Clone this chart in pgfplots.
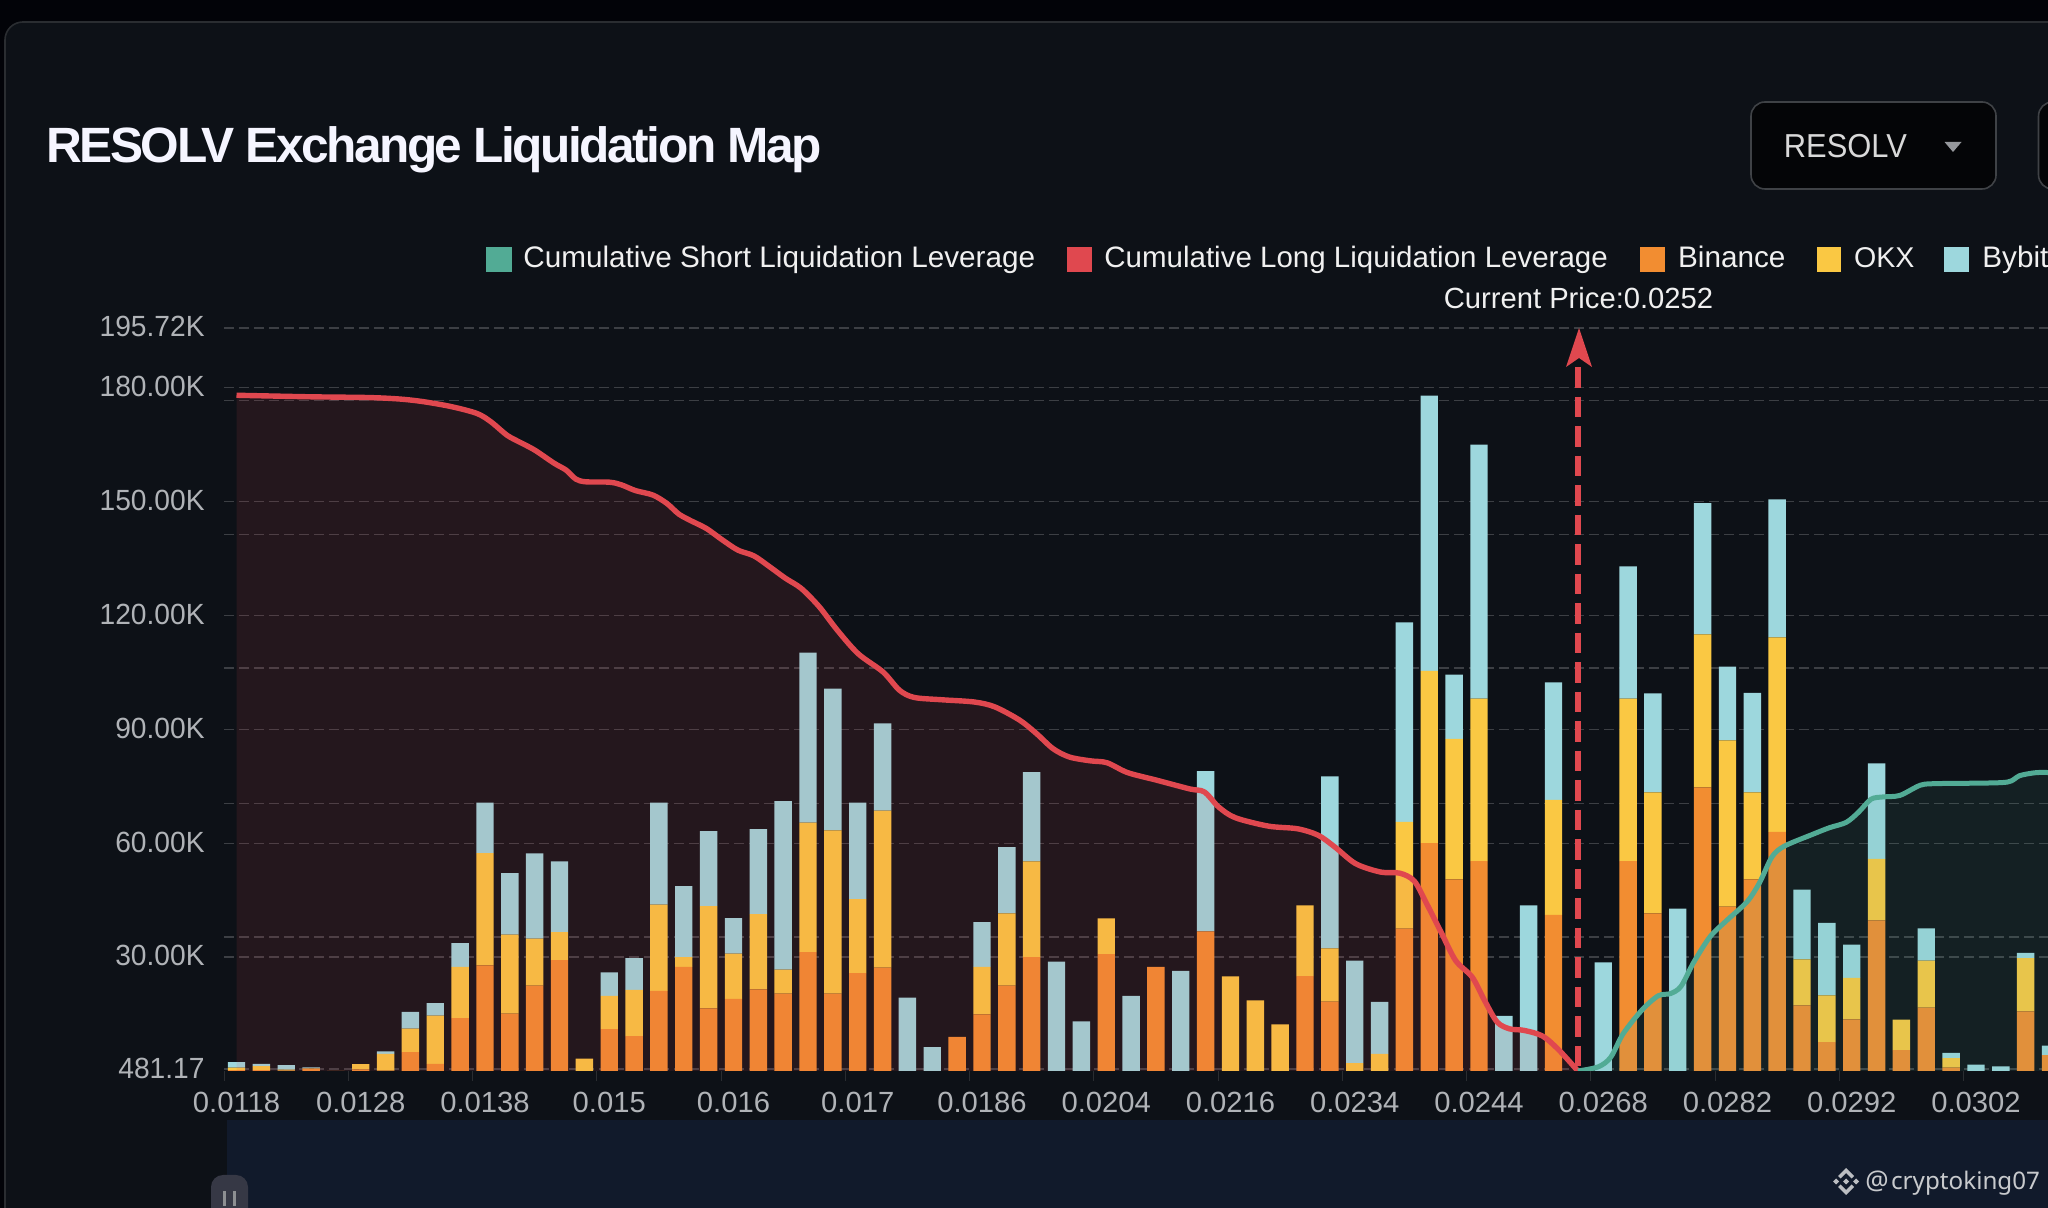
\documentclass[border=0pt]{standalone}
\usepackage{pgfplots}
\usepackage{pgfplotstable}
\usepackage{fontspec}
\pgfplotsset{compat=1.18}
\setmainfont{Liberation Sans}
\newfontfamily\din{Liberation Sans}[FakeStretch=0.93]
\newfontfamily\ylab{Liberation Sans}[FakeStretch=0.965]
\newfontfamily\ttl{Liberation Sans}[BoldFont={Liberation Sans Bold},LetterSpace=-5]
\newfontfamily\wmfont{Noto Sans}

\definecolor{pagebg}{HTML}{020308}
\definecolor{cardbg}{HTML}{0D1117}
\definecolor{cardln}{HTML}{2A2D31}
\definecolor{sliderbg}{HTML}{111A2B}
\definecolor{handle}{HTML}{363845}
\definecolor{gridc}{HTML}{3C3F44}
\definecolor{tickc}{HTML}{B0B3B7}
\definecolor{cbin}{HTML}{F28D31}
\definecolor{cokx}{HTML}{FAC843}
\definecolor{cbyb}{HTML}{9DD7DD}
\definecolor{cred}{HTML}{E0484F}
\definecolor{cgrn}{HTML}{52AB95}

% stacked bars, K values, one row per price bucket
\pgfplotstableread{
i binance okx bybit
0 0.26 0.6 1.5
1 0.25 1.05 0.6
2 0.1 0.25 1.2
3 0.6 0.1 0.27
4 0.05 0 0
5 0.4 1.44 0
6 0.1 4.4 0.7
7 5.0 6.15 4.4
8 1.9 12.7 3.3
9 13.9 13.5 6.3
10 27.8 29.6 13.3
11 15.1 20.8 16.2
12 22.5 12.4 22.4
13 29.2 7.4 18.6
14 0 3.25 0
15 11.0 8.8 6.2
16 9.2 12.2 8.3
17 21.1 22.7 26.9
18 27.4 2.6 18.7
19 16.5 26.9 19.8
20 19.0 11.9 9.4
21 21.5 19.8 22.4
22 20.4 6.3 44.4
23 31.3 34.1 44.8
24 20.4 43.0 37.3
25 25.8 19.5 25.4
26 27.2 41.4 23.0
27 0 0 19.3
28 0 0 6.3
29 9.0 0 0
30 14.9 12.5 11.8
31 22.5 19.0 17.5
32 30.0 25.2 23.5
33 0 0 28.8
34 0 0 13.1
35 30.8 9.4 0
36 0 0 19.8
37 27.4 0 0
38 0 0 26.4
39 36.8 0 42.2
40 0 24.9 0
41 0 18.6 0
42 0 12.3 0
43 25.0 18.6 0
44 18.3 14.0 45.3
45 0 2.1 27.0
46 0 4.5 13.7
47 37.5 28.1 52.6
48 60.0 45.4 72.5
49 50.5 37.0 16.9
50 55.3 42.8 66.9
51 0 0 14.5
52 0 0 43.6
53 41.1 30.3 31.0
54 0 0 0
55 0 0 28.6
56 55.3 42.8 34.8
57 41.5 31.9 26.1
58 0 0 42.8
59 74.7 40.3 34.6
60 43.3 43.8 19.4
61 50.5 22.9 26.2
62 63.0 51.2 36.4
63 17.3 12.1 18.4
64 7.6 12.3 19.1
65 13.6 10.9 8.8
66 39.7 16.2 25.1
67 5.5 8.0 0
68 16.7 12.4 8.5
69 0.9 2.5 1.4
70 0 0 1.7
71 0 0 1.2
72 15.7 14.0 1.4
73 4.2 0 2.5
}\bars

\pgfplotstableread{
i k
0 178
2.92 177.6
5.31 177.4
6.58 177
7.53 176.3
8.65 175
9.68 173.2
10.24 171
10.88 167.5
11.35 165.8
11.99 163.6
12.78 160.1
13.26 158.3
13.66 155.9
14.06 155.2
15.01 155.1
15.49 154.4
16.05 152.9
16.76 151.7
17.32 149.5
17.8 146.7
18.27 145
18.91 142.9
19.55 139.9
20.18 137.2
20.82 135.7
21.46 132.8
22.09 129.8
22.73 127.1
23.45 122.3
24.18 116.1
25.02 109.9
26.02 105.1
26.68 100.3
27.27 98.4
28.35 97.8
29.69 97.2
30.52 95.9
31.52 92.4
32.19 88.9
32.86 84.9
33.52 82.7
34.36 81.7
35.03 81.2
35.86 78.6
37.03 76.6
38.36 74.3
38.95 73.5
39.53 69.5
40.2 66.7
41.53 64.5
42.7 63.8
43.53 62.1
44.2 59
45.04 54.6
46.04 52.4
46.82 52.1
47.4 50
47.9 44
48.48 36.5
49.06 29.1
49.73 24.7
50.23 18.5
50.73 12.9
51.23 11.1
51.81 10.7
52.56 9.2
53.22 5.5
53.98 0
}\redcurve

\pgfplotstableread{
i k
53.98 0
54.8 1.1
55.3 3.6
55.8 9.8
56.55 16
57.21 19.8
57.71 20.4
58.13 22.3
58.63 28.5
59.29 35.3
59.96 39.6
60.79 44.6
61.29 49.6
61.79 56.4
62.28 59.2
63.45 62.4
64.11 64.1
64.78 65.5
65.28 68.2
65.78 71.6
66.27 72.2
66.94 72.6
67.77 75.3
68.44 75.7
69.77 75.8
71.26 76.1
71.76 77.8
72.43 78.6
73 78.6
}\greencurve

\pgfplotsset{
  frame/.style={
    at={(112pt,68.5pt)}, anchor=south west,
    scale only axis, width=912pt, height=371.5pt,
    xmin=-0.503, xmax=72.9, ymin=0, ymax=195.72,
  }
}

\begin{document}
\begin{tikzpicture}
\clip[use as bounding box] (0,0) rectangle (1024pt,604pt);
% page furniture, coordinates in reference pixels
\begin{scope}[x=0.5pt,y=-0.5pt,yshift=604pt]
  \fill[pagebg] (0,0) rectangle (2048,1208);
  \draw[cardln,fill=cardbg,line width=0.8pt,rounded corners=9pt] (5,22) rectangle (2100,1300);
  \fill[sliderbg] (227,1120) rectangle (2048,1208);
  \fill[handle,rounded corners=6pt] (211,1175) rectangle (248,1240);
  \fill[tickc!80!black] (222.5,1191) rectangle (225.5,1206);
  \fill[tickc!80!black] (233,1191) rectangle (236,1206);
  \draw[cardln!90!white,fill=black!70!cardbg,line width=0.8pt,rounded corners=7pt] (1751,102) rectangle (1996,189);
  \draw[cardln!90!white,fill=black!70!cardbg,line width=0.8pt,rounded corners=7pt] (2038.5,102) rectangle (2200,189);
  \fill[tickc!85!black] (1944.5,142) -- (1961.5,142) -- (1953,152) -- cycle;
  % legend keys
  \fill[cgrn] (486,247) rectangle (511.5,272);
  \fill[cred] (1067,247) rectangle (1092,272);
  \fill[cbin] (1640,247) rectangle (1664.5,272);
  \fill[cokx] (1816.5,247) rectangle (1841,272);
  \fill[cbyb] (1943.8,247) rectangle (1968.6,272);
\end{scope}

\begin{axis}[frame,
  ybar stacked, bar width=8.7pt,
  axis line style={draw=none},
  ymajorgrids,
  grid style={gridc,line width=0.7pt,dash pattern=on 5pt off 2.5pt},
  tick pos=lower,
  xtick={0,5,...,70},
  xticklabels={0.0118,0.0128,0.0138,0.015,0.016,0.017,0.0186,0.0204,0.0216,0.0234,0.0244,0.0268,0.0282,0.0292,0.0302},
  minor xtick={-0.5,4.5,...,70},
  major tick length=0pt, minor tick length=5pt,
  tick align=outside, minor tick style={cardln,line width=0.5pt},
  xticklabel style={font=\fontsize{14.6}{16}\selectfont,text=tickc,inner sep=0pt,anchor=north,yshift=-10.25pt},
  ytick={0.48117,30,60,90,120,150,180,195.72},
  yticklabels={481.17,30.00K,60.00K,90.00K,120.00K,150.00K,180.00K,195.72K},
  extra y ticks={35.33,70.39,106.19,141.38,176.59},
  extra y tick labels={},
  yticklabel style={font=\ylab\fontsize{14.6}{16}\selectfont,text=tickc,inner sep=0pt,xshift=-9.5pt,yshift=0.6pt},
]
\addplot[draw=none,fill=cbin] table[x=i,y=binance] {\bars};
\addplot[draw=none,fill=cokx] table[x=i,y=okx] {\bars};
\addplot[draw=none,fill=cbyb] table[x=i,y=bybit] {\bars};
\end{axis}

\begin{axis}[frame, hide axis]
\addplot[draw=none,fill=cred,fill opacity=0.11,smooth,tension=0.5] table[x=i,y=k] {\redcurve} \closedcycle;
\addplot[draw=none,fill=cgrn,fill opacity=0.1,smooth,tension=0.5] table[x=i,y=k] {\greencurve} \closedcycle;
\addplot[cred,line width=3.1pt,dash pattern=on 10.25pt off 4.5pt] coordinates {(53.98,185.4) (53.98,0)};
\addplot[cred,line width=2.7pt,smooth,tension=0.5] table[x=i,y=k] {\redcurve};
\addplot[cgrn,line width=2.5pt,smooth,tension=0.5] table[x=i,y=k] {\greencurve};
\end{axis}

\begin{scope}[x=0.5pt,y=-0.5pt,yshift=604pt]
  \fill[cred] (1579,328) -- (1592,367) -- (1579,358) -- (1566,367) -- cycle;
  % binance mark of the watermark
  \begin{scope}[shift={(1846,1181.5)}]
    \fill[tickc!85!white] (0,-13.5) -- (8,-5.5) -- (5.5,-3) -- (0,-8.5) -- (-5.5,-3) -- (-8,-5.5) -- cycle;
    \fill[tickc!85!white] (0,13.5) -- (8,5.5) -- (5.5,3) -- (0,8.5) -- (-5.5,3) -- (-8,5.5) -- cycle;
    \foreach \dx in {-10,0,10}
      \fill[tickc!85!white] (\dx,-3) -- (\dx+3,0) -- (\dx,3) -- (\dx-3,0) -- cycle;
  \end{scope}
  \node[anchor=base west,inner sep=0pt,font=\ttl\bfseries\fontsize{24.8}{28}\selectfont,text=white!96!blue] at (46,163) {RESOLV Exchange Liquidation Map};
  \node[anchor=west,inner sep=0pt,font=\din\fontsize{16.6}{20}\selectfont,text=white!85!black] at (1783.5,146) {RESOLV};
  \node[anchor=base west,inner sep=0pt,font=\fontsize{14.85}{17}\selectfont,text=white!94!black] at (523,268) {Cumulative Short Liquidation Leverage};
  \node[anchor=base west,inner sep=0pt,font=\fontsize{14.75}{17}\selectfont,text=white!94!black] at (1104,268) {Cumulative Long Liquidation Leverage};
  \node[anchor=base west,inner sep=0pt,font=\fontsize{14.85}{17}\selectfont,text=white!94!black] at (1677.7,268) {Binance};
  \node[anchor=base west,inner sep=0pt,font=\fontsize{14.3}{17}\selectfont,text=white!94!black] at (1853.7,268) {OKX};
  \node[anchor=base west,inner sep=0pt,font=\fontsize{14.85}{17}\selectfont,text=white!94!black] at (1982,268) {Bybit};
  \node[inner sep=0pt,font=\fontsize{14.6}{17}\selectfont,text=white!94!black] at (1578.5,298.5) {Current Price:0.0252};
  \node[anchor=base west,inner sep=0pt,font=\wmfont\fontsize{13}{15}\selectfont,text=tickc!70!white] at (1865,1190) {@};
  \node[anchor=base west,inner sep=0pt,font=\wmfont\fontsize{12.1}{15}\selectfont,text=tickc!70!white] at (1890.7,1190) {cryptoking07};
\end{scope}
\end{tikzpicture}
\end{document}
